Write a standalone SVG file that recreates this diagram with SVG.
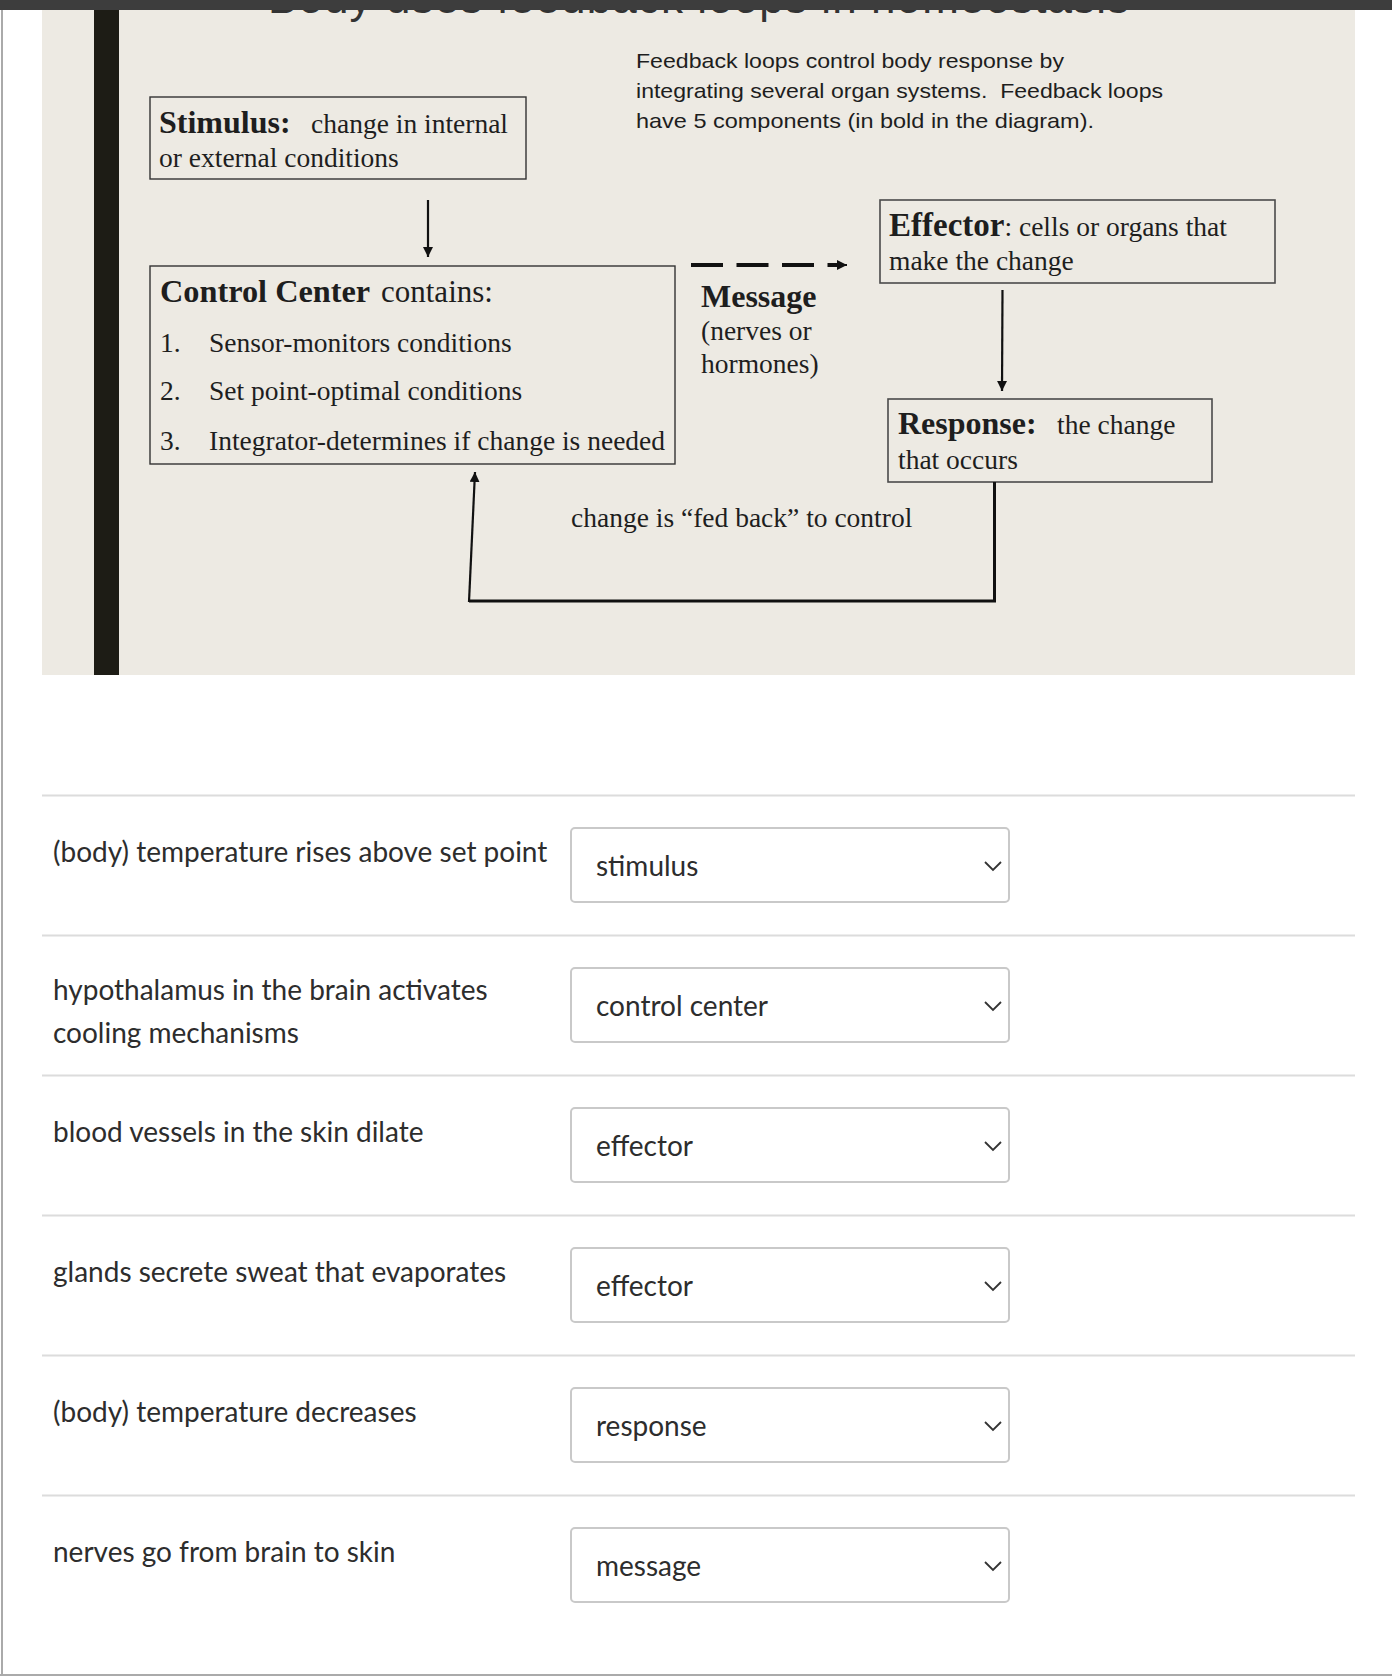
<svg xmlns="http://www.w3.org/2000/svg" width="1392" height="1676" viewBox="0 0 1392 1676">
<defs>
<style>
.serif{font-family:"Liberation Serif","Times New Roman",serif;fill:#1e1e1e;font-size:27.5px}
.b{font-weight:bold;font-size:32px}
.sans{font-family:"Liberation Sans",Arial,sans-serif;fill:#1e1e1e;font-size:21px}
.lato{font-family:Lato,"Liberation Sans",sans-serif;fill:#2d2d2d;font-size:28px}
.box{fill:none;stroke:#333;stroke-width:1.4}
.box2{fill:none;stroke:#4a4a4a;stroke-width:1.6}
.con{fill:none;stroke:#111;stroke-width:2.2}
.sep{stroke:#dcdcdc;stroke-width:2}
.sel{fill:#fff;stroke:#c9c9c9;stroke-width:2}
.chev{fill:none;stroke:#333;stroke-width:1.8}
</style>
<marker id="ah" markerUnits="userSpaceOnUse" markerWidth="10" markerHeight="11" refX="10" refY="5" orient="auto">
<path d="M0,0 L10,5 L0,10 z" fill="#111"/>
</marker>
</defs>
<rect x="0" y="0" width="1392" height="1676" fill="#fff"/>
<rect x="42" y="0" width="1313" height="675" fill="#edeae3"/>
<g id="title">
<text x="268" y="13" font-family="Liberation Sans,Arial,sans-serif" font-size="44" fill="#333" textLength="861" lengthAdjust="spacing">Body uses feedback loops in homeostasis</text>
</g>
<rect x="0" y="0" width="1392" height="10" fill="#3d3d3d"/>
<rect x="94" y="10" width="25" height="665" fill="#1d1c15"/>
<rect x="1" y="10" width="2" height="1666" fill="#aaa"/>
<rect x="0" y="1674" width="1392" height="2" fill="#aaa"/>

<g id="intro">
<text class="sans" x="636" y="68" textLength="428" lengthAdjust="spacingAndGlyphs">Feedback loops control body response by</text>
<text class="sans" x="636" y="98" textLength="527" lengthAdjust="spacingAndGlyphs" xml:space="preserve">integrating several organ systems.  Feedback loops</text>
<text class="sans" x="636" y="128" textLength="458" lengthAdjust="spacingAndGlyphs">have 5 components (in bold in the diagram).</text>
</g>

<g id="stimulus">
<rect class="box" x="150" y="97" width="376" height="82"/>
<text class="serif" x="159" y="133"><tspan class="b">Stimulus:</tspan></text>
<text class="serif" x="311" y="133">change in internal</text>
<text class="serif" x="159" y="166.5">or external conditions</text>
</g>

<g id="control-center">
<rect class="box" x="150" y="266" width="525" height="198"/>
<text class="serif" x="160" y="302" style="font-size:32.3px;font-weight:bold">Control Center</text>
<text class="serif" x="381" y="302" style="font-size:31px">contains:</text>
<text class="serif" x="160" y="352">1.</text>
<text class="serif" x="209" y="352">Sensor-monitors conditions</text>
<text class="serif" x="160" y="400">2.</text>
<text class="serif" x="209" y="400">Set point-optimal conditions</text>
<text class="serif" x="160" y="449.5">3.</text>
<text class="serif" x="209" y="449.5">Integrator-determines if change is needed</text>
</g>

<g id="message">
<text class="serif b" x="701" y="307">Message</text>
<text class="serif" x="701" y="340">(nerves or</text>
<text class="serif" x="701" y="373">hormones)</text>
</g>

<g id="effector">
<rect class="box2" x="880" y="200" width="395" height="83"/>
<text class="serif" x="889" y="236"><tspan style="font-weight:bold;font-size:33px">Effector</tspan>: cells or organs that</text>
<text class="serif" x="889" y="269.5">make the change</text>
</g>

<g id="response">
<rect class="box2" x="888" y="399" width="324" height="83"/>
<text class="serif b" x="898" y="434">Response:</text>
<text class="serif" x="1057" y="434">the change</text>
<text class="serif" x="898" y="468.5">that occurs</text>
</g>

<g id="feedback-label">
<text class="serif" x="571" y="527">change is “fed back” to control</text>
</g>

<g id="connectors">
<line class="con" x1="428" y1="200" x2="428" y2="257" marker-end="url(#ah)"/>
<line x1="691" y1="265" x2="838" y2="265" stroke="#111" stroke-width="4" stroke-dasharray="32 13.5"/>
<line x1="836" y1="265" x2="847" y2="265" stroke="#111" stroke-width="2" marker-end="url(#ah)"/>
<line class="con" x1="1002.5" y1="290" x2="1002" y2="391" marker-end="url(#ah)"/>
<path class="con" d="M994.5,482 L994.5,601 M996,601 L469,601" style="stroke-width:3"/>
<line class="con" x1="469" y1="602" x2="475" y2="472" marker-end="url(#ah)"/>
</g>

<g id="rows">
<line class="sep" x1="42" y1="795.5" x2="1355" y2="795.5"/>
<line class="sep" x1="42" y1="935.5" x2="1355" y2="935.5"/>
<line class="sep" x1="42" y1="1075.5" x2="1355" y2="1075.5"/>
<line class="sep" x1="42" y1="1215.5" x2="1355" y2="1215.5"/>
<line class="sep" x1="42" y1="1355.5" x2="1355" y2="1355.5"/>
<line class="sep" x1="42" y1="1495.5" x2="1355" y2="1495.5"/>
</g>

<g id="row1">
<text class="lato" x="53" y="861.5">(body) temperature rises above set point</text>
<rect class="sel" x="571" y="828" width="438" height="74" rx="4"/>
<text class="lato" x="596" y="876">stimulus</text>
<path class="chev" d="M985,862 L993,870 L1001,862"/>
</g>
<g id="row2">
<text class="lato" x="53" y="999.5">hypothalamus in the brain activates</text>
<text class="lato" x="53" y="1043">cooling mechanisms</text>
<rect class="sel" x="571" y="968" width="438" height="74" rx="4"/>
<text class="lato" x="596" y="1016">control center</text>
<path class="chev" d="M985,1002 L993,1010 L1001,1002"/>
</g>
<g id="row3">
<text class="lato" x="53" y="1141.5">blood vessels in the skin dilate</text>
<rect class="sel" x="571" y="1108" width="438" height="74" rx="4"/>
<text class="lato" x="596" y="1156">effector</text>
<path class="chev" d="M985,1142 L993,1150 L1001,1142"/>
</g>
<g id="row4">
<text class="lato" x="53" y="1281.5">glands secrete sweat that evaporates</text>
<rect class="sel" x="571" y="1248" width="438" height="74" rx="4"/>
<text class="lato" x="596" y="1296">effector</text>
<path class="chev" d="M985,1282 L993,1290 L1001,1282"/>
</g>
<g id="row5">
<text class="lato" x="53" y="1421.5">(body) temperature decreases</text>
<rect class="sel" x="571" y="1388" width="438" height="74" rx="4"/>
<text class="lato" x="596" y="1436">response</text>
<path class="chev" d="M985,1422 L993,1430 L1001,1422"/>
</g>
<g id="row6">
<text class="lato" x="53" y="1561.5">nerves go from brain to skin</text>
<rect class="sel" x="571" y="1528" width="438" height="74" rx="4"/>
<text class="lato" x="596" y="1576">message</text>
<path class="chev" d="M985,1562 L993,1570 L1001,1562"/>
</g>
</svg>
